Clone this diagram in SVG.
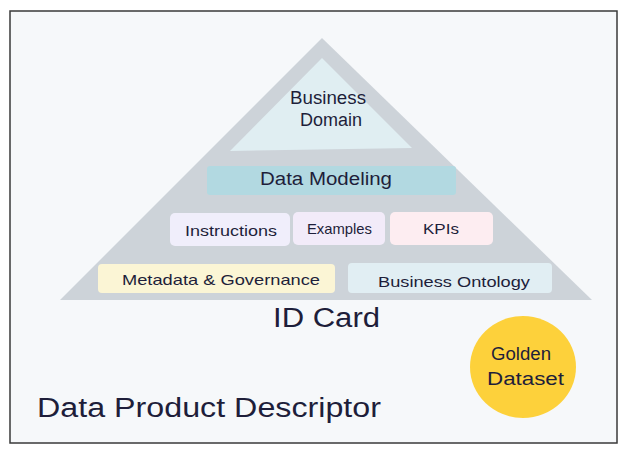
<svg xmlns="http://www.w3.org/2000/svg" width="627" height="452" viewBox="0 0 627 452">
<style>
text{font-family:"Liberation Sans",Arial,sans-serif;fill:#1e1e3a;lengthAdjust:spacingAndGlyphs}
.s{font-size:15px}
.m{font-size:18px}
.box{stroke:none}
</style>
<rect x="0" y="0" width="627" height="452" fill="#ffffff"/>
<g id="frame">
<rect x="10" y="11" width="607" height="432" fill="#f6f8fa" stroke="#3a3a3a" stroke-width="1.5"/>
</g>
<g id="pyramid">
<polygon points="322,38 592,300 60,300" fill="#cdd3d9"/>
</g>
<g id="business-domain">
<polygon points="322,58 412,148 230,151" fill="#e0eef2"/>
<text class="m" x="290" y="104" textLength="76" lengthAdjust="spacingAndGlyphs">Business</text>
<text class="m" x="300" y="126" textLength="62" lengthAdjust="spacingAndGlyphs">Domain</text>
</g>
<g id="data-modeling">
<rect class="box" x="207" y="166" width="249" height="29" rx="3" fill="#b2d9e1"/>
<text class="m" x="260" y="185" textLength="132" lengthAdjust="spacingAndGlyphs">Data Modeling</text>
</g>
<g id="instructions">
<rect class="box" x="170" y="213" width="120" height="33" rx="5" fill="#f0eefb"/>
<text class="s" x="185" y="236" textLength="92" lengthAdjust="spacingAndGlyphs">Instructions</text>
</g>
<g id="examples">
<rect class="box" x="293" y="212" width="92" height="33" rx="5" fill="#f2ebf9"/>
<text class="s" x="307" y="234" textLength="65" lengthAdjust="spacingAndGlyphs">Examples</text>
</g>
<g id="kpis">
<rect class="box" x="390" y="212" width="103" height="33" rx="5" fill="#fdedf1"/>
<text class="s" x="423" y="234" textLength="36" lengthAdjust="spacingAndGlyphs">KPIs</text>
</g>
<g id="metadata">
<rect class="box" x="98" y="264" width="237" height="29" rx="4" fill="#fbf5d5"/>
<text class="s" x="122" y="285" textLength="198" lengthAdjust="spacingAndGlyphs">Metadata &amp; Governance</text>
</g>
<g id="business-ontology">
<rect class="box" x="348" y="263" width="204" height="30" rx="4" fill="#e1eef3"/>
<text class="s" x="378" y="287" textLength="152" lengthAdjust="spacingAndGlyphs">Business Ontology</text>
</g>
<g id="id-card">
<text x="273" y="327" style="font-size:27px" textLength="107" lengthAdjust="spacingAndGlyphs">ID Card</text>
</g>
<g id="golden-dataset">
<ellipse cx="523" cy="367" rx="53" ry="51" fill="#fdd13b"/>
<text class="m" x="491" y="360" textLength="60" lengthAdjust="spacingAndGlyphs">Golden</text>
<text class="m" x="487" y="385" textLength="77" lengthAdjust="spacingAndGlyphs">Dataset</text>
</g>
<g id="descriptor">
<text x="37" y="417" style="font-size:27px" textLength="344" lengthAdjust="spacingAndGlyphs">Data Product Descriptor</text>
</g>
<g id="connectors"></g>
</svg>
